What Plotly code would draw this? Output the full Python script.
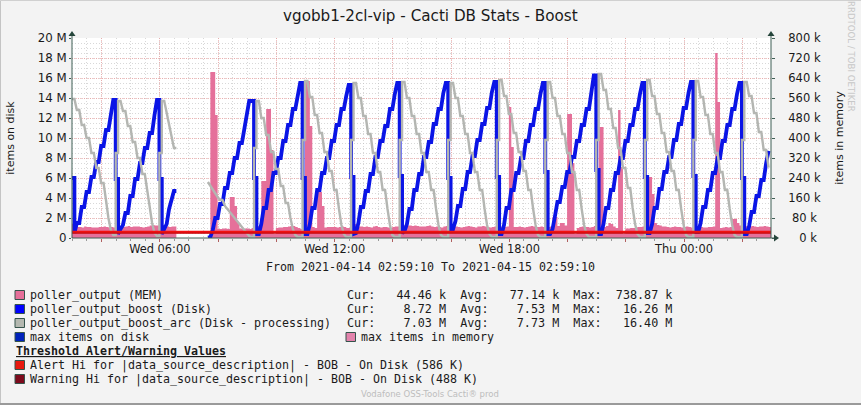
import pandas as pd
import plotly.graph_objects as go

START = "2021-04-14 02:59:10"
sample_times = pd.date_range(START, periods=289, freq="5min")

# poller_output (MEM), thousands of items, one value per 5 minute sample
mem_k = [
    56,46,44,44,42,46,44,44,42,42,42,44,44,46,44,42,44,42,40,40,36,44,46,48,44,46,46,46,44,42,
    44,46,50,52,50,50,54,52,48,46,44,46,46,46,
    None,None,None,None,None,None,None,None,None,None,None,None,None,
    664,664,492,36,36,38,38,36,164,164,128,60,38,36,38,38,36,40,44,48,44,
    228,228,516,516,352,16,40,42,42,44,44,46,48,48,44,40,36,36,628,628,448,44,40,184,184,128,
    42,44,44,44,44,42,44,46,44,40,40,160,56,
    44,46,46,44,46,44,42,46,48,44,42,44,44,42,40,44,46,46,50,50,52,50,50,48,50,48,46,46,46,48,
    50,46,44,46,44,42,46,48,46,44,44,46,44,42,44,46,48,46,44,42,46,46,48,46,44,42,44,46,48,46,
    44,44,46,524,364,
    44,44,46,44,42,44,46,48,46,44,44,46,44,42,44,46,
    84,84,48,60,60,50,496,496,300,16,40,44,46,44,44,42,44,48,44,444,444,44,48,60,56,46,40,512,284,
    16,38,38,40,40,42,44,44,46,46,244,244,176,60,
    52,50,46,46,44,42,44,46,44,44,42,44,46,44,42,44,46,46,44,42,42,44,44,46,
    740,544,40,42,44,42,44,76,76,60,50,44,48,46,46,48,46,44,46,46,48,46,44,44.46,
]

# poller_output_boost (Disk), millions of items
boost_m = [
    6,.5,1.5,1.5,3.1,3.1,4.6,4.6,6.1,6.1,7.6,7.6,9.2,9.2,10.8,10.8,12.4,13.8,
    5.9,.4,.9,1.3,2.5,2.5,4.2,4.2,5.9,5.9,7.5,7.5,9,9,10.5,10.5,12.3,13.8,
    5.9,.4,.9,1.4,2.9,3.7,4.7,4.7,
    None,None,None,None,None,None,None,None,None,None,None,None,
    .05,.1,.8,2,2,3.4,3.4,5,5,6.5,6.5,8,8,9.5,9.5,10.8,12.2,13.7,13.7,
    6,.4,.4,1.4,3,3,4.8,4.8,6.5,6.5,8,8,9.7,9.7,11.3,11.3,12.9,12.9,14.4,15.5,
    6,.4,.4,1.4,3,3,4.8,4.8,6.5,6.5,8,8,9.7,9.7,11.3,11.3,12.9,12.9,14.2,15.3,
    6.1,.4,.5,1.5,3.1,3.1,4.7,4.7,6.4,6.4,8.1,8.1,9.7,9.7,11.2,11.2,12.9,12.9,14.4,15.5,
    6.2,.5,.7,1.4,2.9,2.9,4.8,4.8,6.4,6.4,8.1,8.1,9.6,9.6,11.4,11.4,12.9,12.9,14.5,15.5,
    6,.9,.9,1.7,3.2,3.2,4.9,4.9,6.6,6.6,8.2,8.2,9.8,9.8,11.4,11.4,13,13,14.6,15.6,
    6.1,.4,.4,1.3,3,3,4.8,4.8,6.5,6.5,8,8,9.7,9.7,11.3,11.3,12.9,12.9,14.4,15.5,
    6.6,.4,.4,.9,2.2,3.6,3.6,5.1,5.1,6.6,6.6,8.1,8.1,9.7,9.7,11.3,11.3,12.9,12.9,14.7,16.26,
    6.8,.4,.4,1.4,3,3,4.8,4.8,6.5,6.5,8,8,9.7,9.7,11.3,11.3,12.9,12.9,14.4,15.5,
    6.1,.5,.5,1.4,3,3,4.9,4.9,6.6,6.6,8.1,8.1,9.8,9.8,11.4,11.4,13,13,14.5,15.6,
    6.2,.6,.6,1.5,3.1,3.1,4.8,4.8,6.5,6.5,8,8,9.7,9.7,11.3,11.3,12.9,12.9,14.4,15.5,
    6,.4,.4,1.2,2.6,2.6,4.2,4.2,5.8,5.8,7.5,8.72,None,
]

# poller_output_boost_arc (Disk - processing), millions of items
boost_arc_m = [
    13.9,13.9,12.8,12.8,11.3,11.3,10,10,8.5,8.5,7,7,5.5,5.5,3.8,2,.8,.3,
    8.5,13.7,13.7,12.7,12.7,11.2,11.2,9.6,9.6,8,8,6.4,6.4,4.6,3,1.5,.5,.2,
    8.5,13.7,13.7,12.6,11.5,10.2,9,9,
    None,None,None,None,None,None,None,None,None,None,None,None,
    5.6,5.2,4.9,4.4,4.1,3.8,3.8,3.2,2.9,2.6,2.3,2,1.7,1.4,1.1,.8,.5,.2,.1,
    9,13.7,13.7,12,12,10.3,10.3,8.6,8.6,6.9,6.9,5.2,5.2,3.5,3.5,2,.9,.3,.1,.1,
    9.8,15.7,15.7,14.1,14.1,12.3,12.3,10.5,10.5,8.6,8.6,6.7,6.7,4.8,4.8,2.9,1.3,.4,.1,.1,
    9.8,15.5,15.5,14,14,12.2,12.2,10.4,10.4,8.5,8.5,6.6,6.6,4.8,4.8,2.9,1.3,.3,.1,.1,
    9.8,15.6,15.6,14,14,12.2,12.2,10.4,10.4,8.5,8.5,6.6,6.6,4.8,4.8,2.9,1.3,.3,.1,.1,
    9.8,15.5,15.5,14,14,12.2,12.2,10.4,10.4,8.5,8.5,6.6,6.6,4.8,4.8,2.9,1.3,.4,.1,.1,
    9.8,15.8,15.8,14.2,14.2,12.4,12.4,10.5,10.5,8.6,8.6,6.7,6.7,4.8,4.8,2.9,1.3,.3,.1,.1,
    9.8,15.6,15.6,14,14,12.2,12.2,10.4,10.4,8.5,8.5,6.6,6.6,4.8,4.8,2.9,1.3,.4,.1,.1,.1,
    9.8,16.4,16.4,14.8,14.8,12.9,12.9,11,11,9,9,7,7,5,5,3,1.4,.4,.1,.1,
    9.8,15.8,15.8,14.2,14.2,12.4,12.4,10.5,10.5,8.6,8.6,6.7,6.7,4.8,4.8,2.9,1.3,.3,.1,.1,
    9.8,15.7,15.7,14.1,14.1,12.3,12.3,10.4,10.4,8.5,8.5,6.6,6.6,4.8,4.8,2.9,1.3,.3,.1,.1,
    9.8,15.6,15.6,14.2,14.2,12.5,12.5,10.6,10.6,8.8,8.8,7.03,None,
]
assert len(mem_k) == 289 and len(boost_m) == 289 and len(boost_arc_m) == 289

alert_level_m = [.586, .586]
warning_level_m = [.488, .488]

disk_ticks = [0, 2, 4, 6, 8, 10, 12, 14, 16, 18, 20]
disk_labels = ["0", "2 M", "4 M", "6 M", "8 M", "10 M", "12 M", "14 M", "16 M", "18 M", "20 M"]
mem_ticks = [0, 80, 160, 240, 320, 400, 480, 560, 640, 720, 800]
mem_labels = ["\u00a0\u00a0\u00a00 k", "\u00a080 k", "160 k", "240 k", "320 k", "400 k",
              "480 k", "560 k", "640 k", "720 k", "800 k"]
time_ticks = pd.date_range("2021-04-14 04:00", "2021-04-15 02:00", freq="2h")
time_labels = [t.strftime("%a %H:%M") if t.hour % 6 == 0 else "" for t in time_ticks]

legend_rows = [
    ("poller_output (MEM)", "Cur:\u00a0\u00a0\u00a044.46 k\u00a0\u00a0Avg:\u00a0\u00a0\u00a077.14 k\u00a0\u00a0Max:\u00a0\u00a0738.87 k", "#E5709A"),
    ("poller_output_boost (Disk)", "Cur:\u00a0\u00a0\u00a0\u00a08.72 M\u00a0\u00a0Avg:\u00a0\u00a0\u00a0\u00a07.53 M\u00a0\u00a0Max:\u00a0\u00a0\u00a016.26 M", "#0000FF"),
    ("poller_output_boost_arc (Disk - processing)", "Cur:\u00a0\u00a0\u00a0\u00a07.03 M\u00a0\u00a0Avg:\u00a0\u00a0\u00a0\u00a07.73 M\u00a0\u00a0Max:\u00a0\u00a0\u00a016.40 M", "#B4B8B0"),
]

L, R, T, B = 72, 771, 38, 238
W, H = 861, 405
MONO = "DejaVu Sans Mono"
SANS = "DejaVu Sans"
INK = "#1a1a1a"
AXIS = "#3f5f55"
MAJOR_GRID = "rgba(240,130,130,0.5)"
MINOR_GRID = "rgba(190,190,190,0.6)"


def px(x):
    return (x - L) / (R - L)


def py(y):
    return (B - y) / (B - T)


def with_vertical_drops(times, values, jump=3):
    """Samples join linearly, except big jumps, which RRD draws as a vertical edge."""
    xs, ys = [], []
    prev = None
    for t, v in zip(times, values):
        if v is not None and prev is not None and abs(v - prev) > jump:
            xs.append(t)
            ys.append(prev)
        xs.append(t)
        ys.append(v)
        prev = v
    return xs, ys


fig = go.Figure()
split = mem_k.index(None)
resume = len(mem_k) - mem_k[::-1].index(None)
for times, vals in ((sample_times[:split], mem_k[:split]), (sample_times[resume:], mem_k[resume:])):
    fig.add_trace(go.Scatter(x=times, y=vals, name="poller_output (MEM)", mode="lines",
                             line=dict(shape="hv", width=0, color="#E5709A"), fill="tozeroy",
                             fillcolor="#E5709A", yaxis="y"))
bx, by = with_vertical_drops(sample_times, boost_m)
fig.add_trace(go.Scatter(x=bx, y=by, name="poller_output_boost (Disk)", mode="lines",
                         line=dict(width=3.8, color="#0A14E6"), yaxis="y2"))
gx, gy = with_vertical_drops(sample_times, boost_arc_m)
fig.add_trace(go.Scatter(x=gx, y=gy, name="poller_output_boost_arc (Disk - processing)",
                         mode="lines", line=dict(width=2.4, color="#B4B6B2"), yaxis="y2"))
edges = [sample_times[0], sample_times[-1]]
fig.add_trace(go.Scatter(x=edges, y=alert_level_m, name="Alert Hi", mode="lines",
                         line=dict(width=3, color="#F01010"), yaxis="y2"))
fig.add_trace(go.Scatter(x=edges, y=warning_level_m, name="Warning Hi", mode="lines",
                         line=dict(width=0.5, color="#8A0A18"), yaxis="y2"))

shapes = []


def line(x0, y0, x1, y1, color, width=1):
    shapes.append(dict(type="line", xref="paper", yref="paper", x0=px(x0), y0=py(y0), x1=px(x1), y1=py(y1),
                       line=dict(color=color, width=width), layer="above"))


def tri(points, color):
    path = "M " + " L ".join(f"{px(a):.5f} {py(b):.5f}" for a, b in points) + " Z"
    shapes.append(dict(type="path", xref="paper", yref="paper", path=path, fillcolor=color,
                       line=dict(color=color, width=0), layer="above"))


line(L, B, L, 34, AXIS)
line(R, B, R, 34, AXIS)
line(L, B, 775, B, AXIS)
tri([(68.5, 36), (72, 31), (75.5, 36)], "#25453B")
tri([(767.5, 36), (771, 31), (774.5, 36)], "#25453B")
tri([(774, 234.5), (779, 238), (774, 241.5)], "#25453B")

# frame of the picture
line(0.5, 0.5, W, 0.5, "#D0D0D0")
line(0.5, 0.5, 0.5, H, "#C4C4C4")
line(0, H - 1, W, H - 1, "#9A9A9A", 2)

annotations = []


def note(x, y, text, size=11.63, family=MONO, color=INK, anchor="left", angle=0):
    annotations.append(dict(xref="paper", yref="paper", x=px(x), y=py(y), text=text, showarrow=False,
                            xanchor=anchor, yanchor="middle", textangle=angle,
                            font=dict(family=family, size=size, color=color)))


def swatch(y, color, x=15):
    shapes.append(dict(type="rect", xref="paper", yref="paper", x0=px(x), x1=px(x + 9.5),
                       y0=py(y - 4.5), y1=py(y + 4.5), fillcolor=color,
                       line=dict(color="#34534B", width=1), layer="above"))


note(430.5, 16, "vgobb1-2cl-vip - Cacti DB Stats - Boost", size=15.2, family=SANS, anchor="center")
note(430.5, 267, "From 2021-04-14 02:59:10 To 2021-04-15 02:59:10", anchor="center")
row_y = [295, 309, 323]
for yy, (label, stats, colour) in zip(row_y, legend_rows):
    swatch(yy, colour)
    note(28, yy, label)
    note(345, yy, stats, size=11.75)
swatch(337, "#0022BB")
note(28, 337, "max items on disk")
swatch(337, "#E283AC", x=346)
note(359, 337, "max items in memory")
note(14, 351, "<b><u>Threshold Alert/Warning Values</u></b>")
swatch(365, "#E8190F")
note(28, 365, "Alert Hi for |data_source_description| - BOB - On Disk (586 K)")
swatch(379, "#7C0A1C")
note(28, 379, "Warning Hi for |data_source_description| - BOB - On Disk (488 K)")
note(430, 394, "Vodafone OSS-Tools Cacti\u00ae prod", size=8.5, family=SANS, color="#BDBDBD", anchor="center")
note(851, 56, "RRDTOOL / TOBI OETIKER", size=8.6, family=SANS, color="#C8C8C8", anchor="center", angle=90)

fig.update_layout(
    width=W, height=H, autosize=False,
    margin=dict(l=L, r=W - R, t=T, b=H - B, pad=0, autoexpand=False),
    paper_bgcolor="#F3F3F3", plot_bgcolor="#FFFFFF", showlegend=False,
    font=dict(family=SANS, size=11, color=INK),
    shapes=shapes, annotations=annotations,
    xaxis=dict(
        type="date", range=[sample_times[0], sample_times[-1]], tickmode="array", automargin=False,
        tickvals=list(time_ticks), ticktext=time_labels, ticks="outside", ticklen=3, tickcolor="#B06060",
        ticklabelstandoff=-3,
        showgrid=True, gridcolor=MAJOR_GRID, griddash="1px,1px", gridwidth=1,
        minor=dict(dtick=1800000, tick0=START[:11] + "03:00:00", showgrid=True, griddash="1px,2px",
                   gridcolor=MINOR_GRID, gridwidth=1, ticks="outside", ticklen=2, tickcolor="#999999"),
        zeroline=False, showline=False, tickfont=dict(family=SANS, size=11.4, color=INK),
    ),
    yaxis=dict(
        range=[0, 800], side="right", tickmode="array", tickvals=mem_ticks, ticktext=mem_labels, automargin=False,
        ticks="outside", ticklen=3, tickcolor=AXIS, ticklabelstandoff=11,
        showgrid=True, gridcolor=MAJOR_GRID, griddash="1px,1px", gridwidth=1,
        minor=dict(dtick=20, showgrid=True, griddash="1px,2px", gridcolor=MINOR_GRID, gridwidth=1),
        zeroline=False, showline=False, tickfont=dict(family=SANS, size=11.5, color=INK),
        title=dict(text="items in memory", font=dict(family=SANS, size=11, color=INK), standoff=15),
    ),
    yaxis2=dict(
        range=[0, 20], overlaying="y", side="left", tickmode="array", tickvals=disk_ticks, ticktext=disk_labels,
        automargin=False,
        ticks="outside", ticklen=2, tickcolor=AXIS, ticklabelstandoff=0, showgrid=False, zeroline=False, showline=False,
        tickfont=dict(family=SANS, size=11.8, color=INK),
        title=dict(text="items on disk", font=dict(family=SANS, size=11, color=INK), standoff=20),
    ),
)

fig.write_html("out.html", config={"displayModeBar": False},
               post_script="document.body.style.margin='0';document.body.style.background='#F3F3F3';")
